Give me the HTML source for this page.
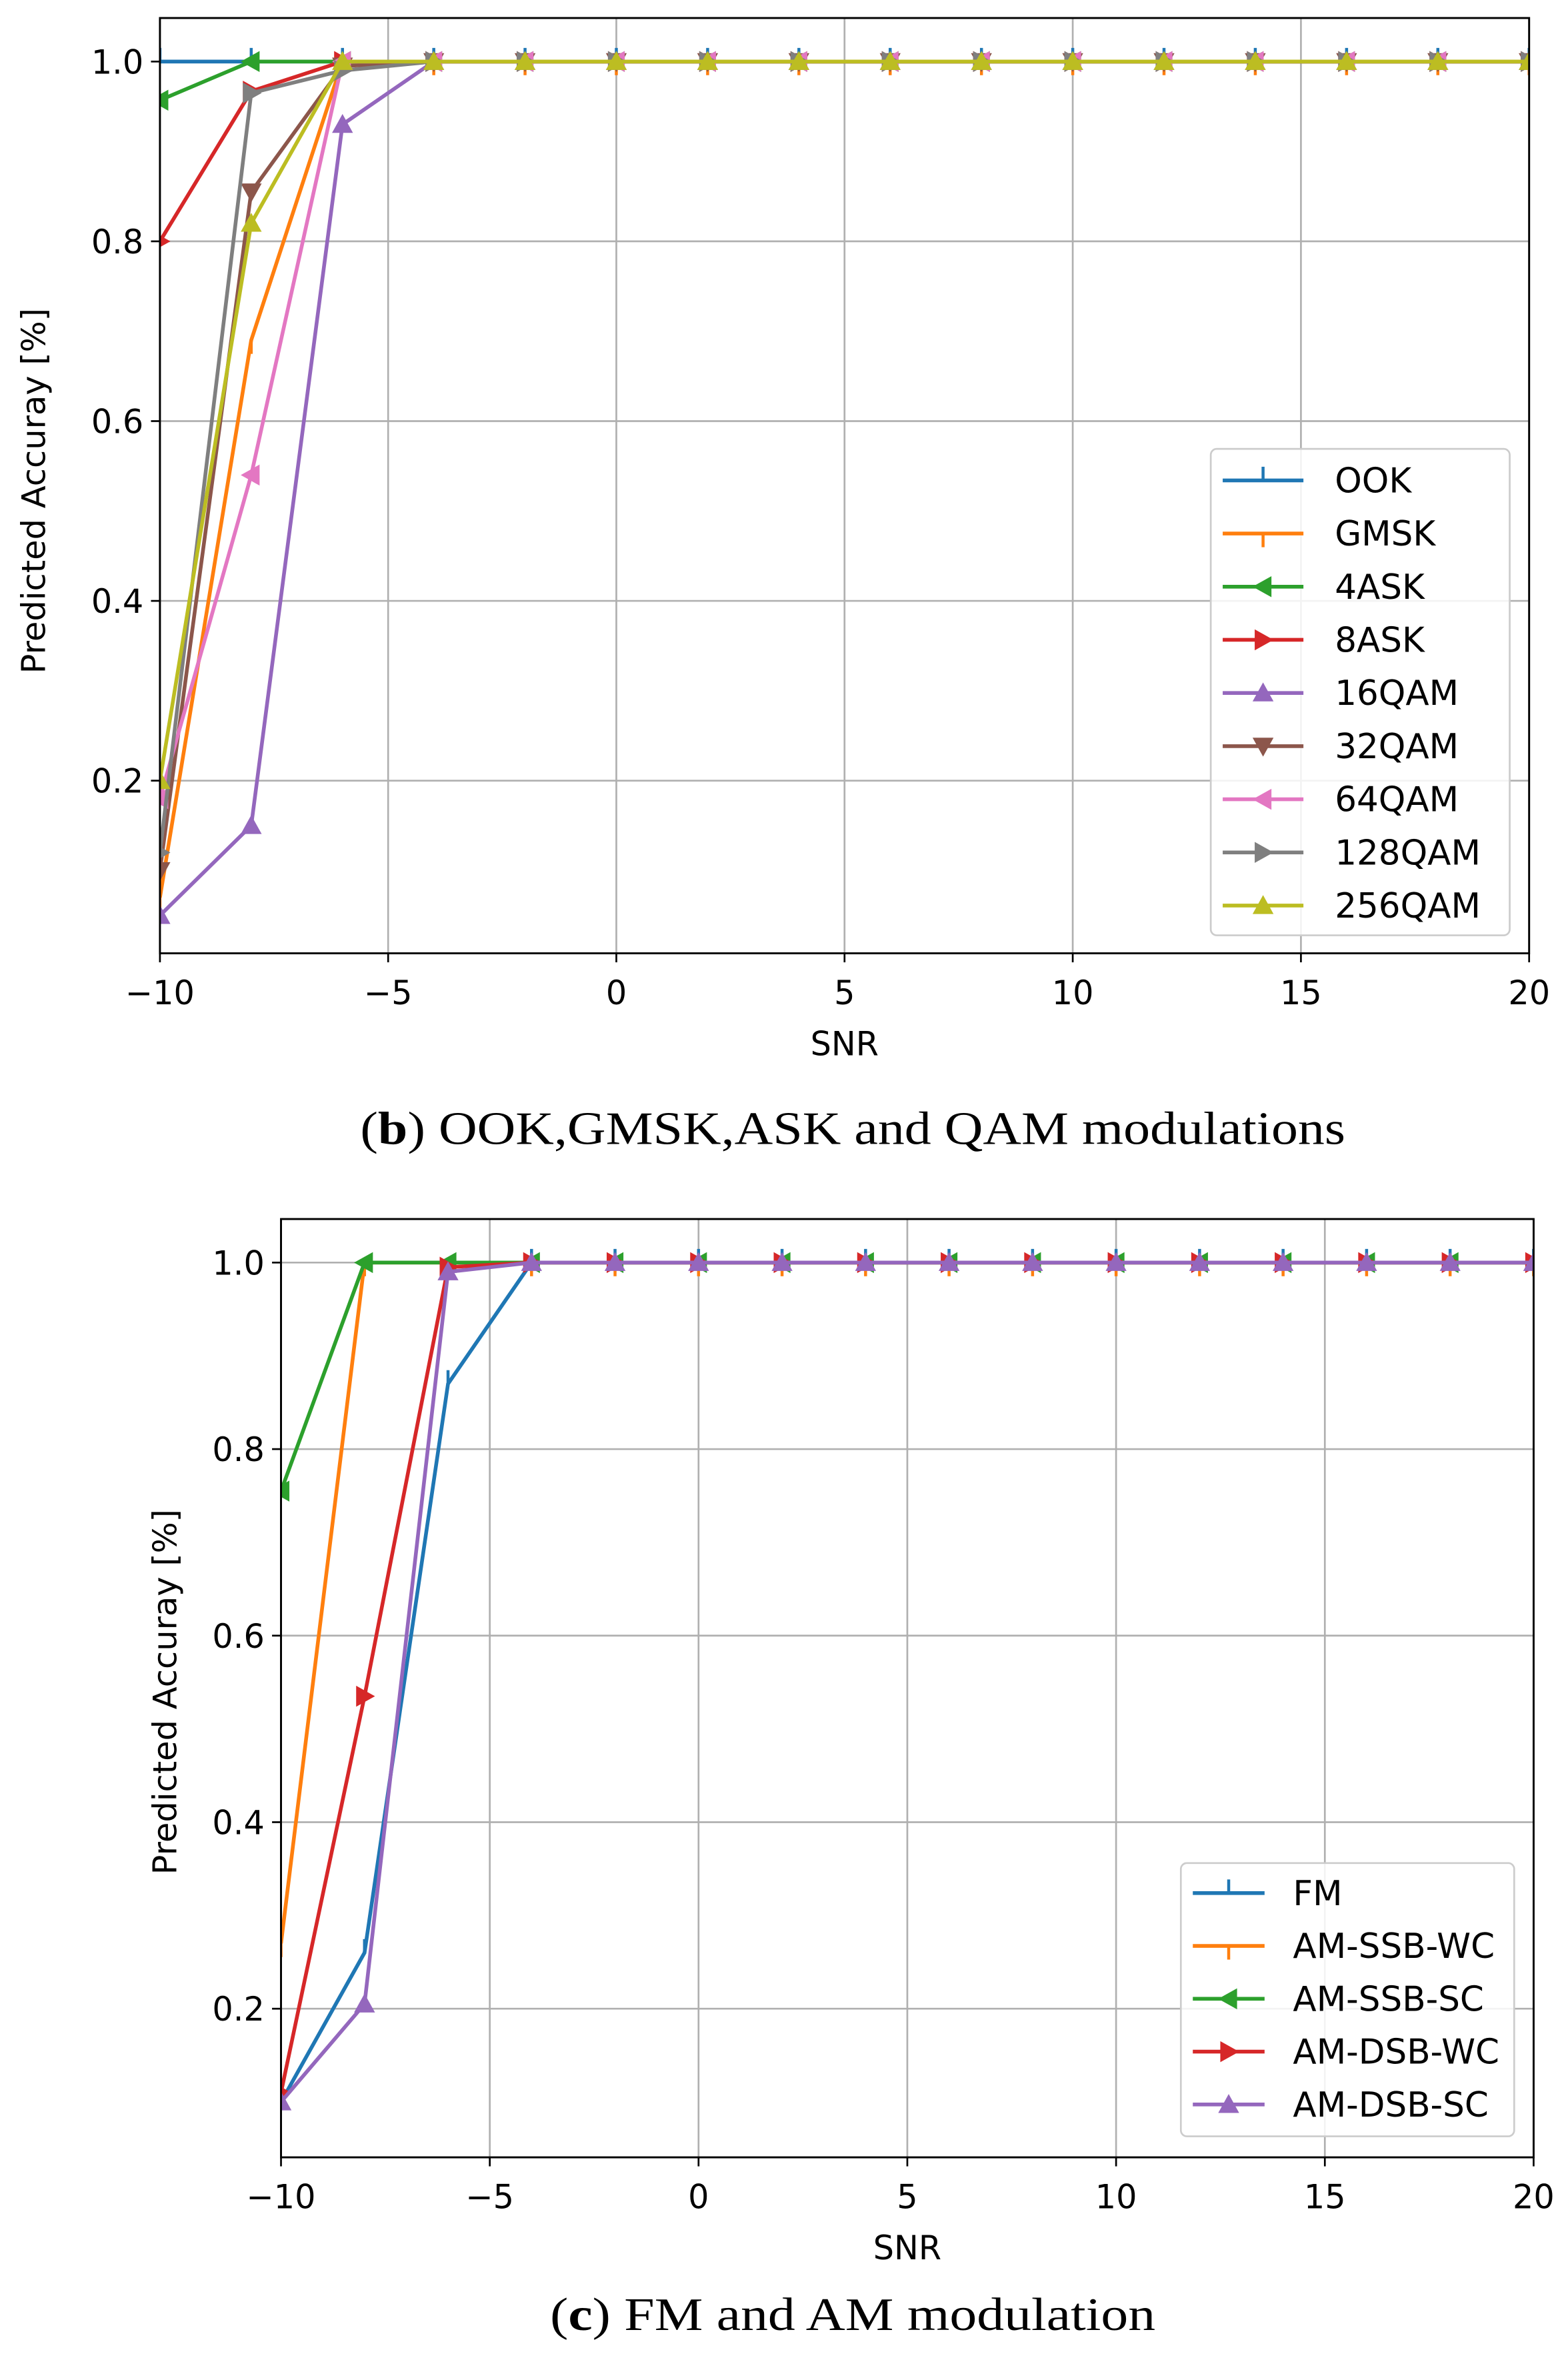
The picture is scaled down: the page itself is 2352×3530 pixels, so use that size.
<!DOCTYPE html>
<html><head><meta charset="utf-8">
<style>html,body{margin:0;padding:0;background:#fff}svg{display:block}</style>
</head><body>
<svg id="s" width="2352" height="3530" viewBox="0 0 1049 1568" preserveAspectRatio="none" xmlns="http://www.w3.org/2000/svg" font-family="DejaVu Sans, Liberation Sans, sans-serif">
<rect width="1049" height="1568" fill="#fff"/>
<text x="241" y="762" font-family="Liberation Serif, serif" font-size="31" textLength="659" lengthAdjust="spacingAndGlyphs">(<tspan font-weight="bold">b</tspan>) OOK,GMSK,ASK and QAM modulations</text>
<text x="368" y="1552" font-family="Liberation Serif, serif" font-size="31" textLength="405" lengthAdjust="spacingAndGlyphs">(<tspan font-weight="bold">c</tspan>) FM and AM modulation</text>
</svg>
<script>
const S=document.getElementById('s');const NS='http://www.w3.org/2000/svg';
function el(t,a,txt){const e=document.createElementNS(NS,t);for(const k in a)e.setAttribute(k,a[k]);if(txt!==undefined)e.textContent=txt;S.appendChild(e);return e;}
const C=['#1f77b4','#ff7f0e','#2ca02c','#d62728','#9467bd','#8c564b','#e377c2','#7f7f7f','#bcbd22'];
function marker(m,x,y,c){const r=7;
 if(m=='up')el('line',{x1:x,y1:y,x2:x,y2:y-r*1.3,stroke:c,'stroke-width':2});
 else if(m=='down')el('line',{x1:x,y1:y,x2:x,y2:y+r*1.3,stroke:c,'stroke-width':2});
 else{let p;
  if(m=='L')p=[[x-r,y],[x+r*0.8,y-r],[x+r*0.8,y+r]];
  if(m=='R')p=[[x+r,y],[x-r*0.8,y-r],[x-r*0.8,y+r]];
  if(m=='U')p=[[x,y-r],[x-r,y+r*0.8],[x+r,y+r*0.8]];
  if(m=='D')p=[[x,y+r],[x-r,y-r*0.8],[x+r,y-r*0.8]];
  el('polygon',{points:p.map(q=>q.join(',')).join(' '),fill:c});}}
function chart(o){
 const X=v=>o.l+(v+10)*(o.r-o.l)/30, Y=v=>o.y1+(1-v)*o.sy;
 for(let v=-10;v<=20;v+=5){el('line',{x1:X(v),y1:o.t,x2:X(v),y2:o.b,stroke:'#b0b0b0','stroke-width':1.2});
  el('line',{x1:X(v),y1:o.b,x2:X(v),y2:o.b+6,stroke:'#000','stroke-width':1.2});
  el('text',{x:X(v),y:o.b+34,'font-size':22,'text-anchor':'middle'},(v<0?'\u2212'+(-v):v));}
 [0.2,0.4,0.6,0.8,1.0].forEach(v=>{el('line',{x1:o.l,y1:Y(v),x2:o.r,y2:Y(v),stroke:'#b0b0b0','stroke-width':1.2});
  el('line',{x1:o.l-6,y1:Y(v),x2:o.l,y2:Y(v),stroke:'#000','stroke-width':1.2});
  el('text',{x:o.l-11,y:Y(v)+8,'font-size':22,'text-anchor':'end'},v.toFixed(1));});
 const xs=[];for(let v=-10;v<=20;v+=2)xs.push(v);
 el('clipPath',{id:'c'+o.t}).appendChild(document.createElementNS(NS,'rect'));
 const cr=S.lastChild.firstChild;cr.setAttribute('x',o.l);cr.setAttribute('y',o.t);cr.setAttribute('width',o.r-o.l);cr.setAttribute('height',o.b-o.t);
 const g=el('g',{'clip-path':'url(#c'+o.t+')'});
 o.series.forEach((s,i)=>{const ys=xs.map((x,j)=>j<s.d.length?s.d[j]:1);
  const pts=xs.map((x,j)=>X(x)+','+Y(ys[j])).join(' ');
  g.appendChild(el('polyline',{points:pts,fill:'none',stroke:C[i],'stroke-width':2.5}));
  xs.forEach((x,j)=>{marker(s.m,X(x),Y(ys[j]),C[i]);g.appendChild(S.lastChild);});});
 el('rect',{x:o.l,y:o.t,width:o.r-o.l,height:o.b-o.t,fill:'none',stroke:'#000','stroke-width':1.3});
 el('text',{x:(o.l+o.r)/2,y:o.b+68,'font-size':22,'text-anchor':'middle'},'SNR');
 el('text',{transform:`translate(${o.yl[0]},${o.yl[1]}) rotate(-90)`,'font-size':22,'text-anchor':'middle'},'Predicted Accuray [%]');
 const L=o.leg;el('rect',{x:L.x,y:L.y,width:L.w,height:L.h,rx:4,fill:'#fff','fill-opacity':0.85,stroke:'#ccc','stroke-width':1.2});
 o.series.forEach((s,i)=>{const y=L.e0+i*L.dy;el('line',{x1:L.lx,y1:y,x2:L.lx+L.ll,y2:y,stroke:C[i],'stroke-width':2.5});
  marker(s.m,L.lx+L.ll/2,y,C[i]);el('text',{x:L.tx,y:y+8,'font-size':23},s.n);});
}
chart({l:107,r:1023,t:12,b:635,y1:41,sy:598.75,yl:[30,327],
 leg:{x:810,y:299,w:200,h:324,e0:320,dy:35.4,lx:818,ll:54,tx:893},
 series:[{n:'OOK',m:'up',d:[1,1]},{n:'GMSK',m:'down',d:[0.07,0.69,1]},{n:'4ASK',m:'L',d:[0.957,1]},
 {n:'8ASK',m:'R',d:[0.8,0.967,1]},{n:'16QAM',m:'U',d:[0.05,0.15,0.93,1]},{n:'32QAM',m:'D',d:[0.1,0.855,0.995]},
 {n:'64QAM',m:'L',d:[0.18,0.54,1]},{n:'128QAM',m:'R',d:[0.12,0.965,0.99]},{n:'256QAM',m:'U',d:[0.2,0.82,1]}]});
chart({l:188,r:1026,t:812,b:1437,y1:841,sy:621.25,yl:[118,1127],
 leg:{x:790,y:1241,w:223,h:182,e0:1261,dy:35.2,lx:798,ll:48,tx:865},
 series:[{n:'FM',m:'up',d:[0.1,0.26,0.87,1]},{n:'AM-SSB-WC',m:'down',d:[0.27,1]},{n:'AM-SSB-SC',m:'L',d:[0.755,1]},
 {n:'AM-DSB-WC',m:'R',d:[0.11,0.535,0.995]},{n:'AM-DSB-SC',m:'U',d:[0.1,0.205,0.99,1]}]});
</script>
</body></html>
